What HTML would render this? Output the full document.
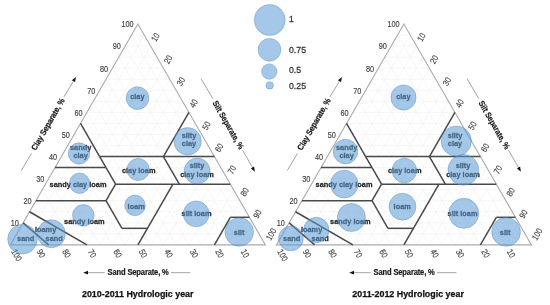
<!DOCTYPE html>
<html><head><meta charset="utf-8"><style>
html,body{margin:0;padding:0;background:#fff;width:550px;height:305px;overflow:hidden}
svg{display:block}
</style></head><body>
<svg width="550" height="305" viewBox="0 0 550 305">
<rect width="550" height="305" fill="#fff"/>
<g stroke="#f4f4f4" stroke-width="0.8" fill="none">
<line x1="16.77" y1="233.86" x2="259.02" y2="233.86"/>
<line x1="23.15" y1="244.9" x2="144.28" y2="35.11"/>
<line x1="252.65" y1="244.9" x2="131.53" y2="35.11"/>
<line x1="23.15" y1="222.82" x2="252.65" y2="222.82"/>
<line x1="35.9" y1="244.9" x2="150.65" y2="46.15"/>
<line x1="239.9" y1="244.9" x2="125.15" y2="46.15"/>
<line x1="29.52" y1="211.77" x2="246.27" y2="211.77"/>
<line x1="48.65" y1="244.9" x2="157.03" y2="57.19"/>
<line x1="227.15" y1="244.9" x2="118.78" y2="57.19"/>
<line x1="35.9" y1="200.73" x2="239.9" y2="200.73"/>
<line x1="61.4" y1="244.9" x2="163.4" y2="68.23"/>
<line x1="214.4" y1="244.9" x2="112.4" y2="68.23"/>
<line x1="42.27" y1="189.69" x2="233.53" y2="189.69"/>
<line x1="74.15" y1="244.9" x2="169.78" y2="79.27"/>
<line x1="201.65" y1="244.9" x2="106.03" y2="79.27"/>
<line x1="48.65" y1="178.65" x2="227.15" y2="178.65"/>
<line x1="86.9" y1="244.9" x2="176.15" y2="90.31"/>
<line x1="188.9" y1="244.9" x2="99.65" y2="90.31"/>
<line x1="55.02" y1="167.61" x2="220.78" y2="167.61"/>
<line x1="99.65" y1="244.9" x2="182.53" y2="101.36"/>
<line x1="176.15" y1="244.9" x2="93.28" y2="101.36"/>
<line x1="61.4" y1="156.57" x2="214.4" y2="156.57"/>
<line x1="112.4" y1="244.9" x2="188.9" y2="112.4"/>
<line x1="163.4" y1="244.9" x2="86.9" y2="112.4"/>
<line x1="67.78" y1="145.52" x2="208.03" y2="145.52"/>
<line x1="125.15" y1="244.9" x2="195.28" y2="123.44"/>
<line x1="150.65" y1="244.9" x2="80.53" y2="123.44"/>
<line x1="74.15" y1="134.48" x2="201.65" y2="134.48"/>
<line x1="137.9" y1="244.9" x2="201.65" y2="134.48"/>
<line x1="137.9" y1="244.9" x2="74.15" y2="134.48"/>
<line x1="80.53" y1="123.44" x2="195.28" y2="123.44"/>
<line x1="150.65" y1="244.9" x2="208.03" y2="145.52"/>
<line x1="125.15" y1="244.9" x2="67.78" y2="145.52"/>
<line x1="86.9" y1="112.4" x2="188.9" y2="112.4"/>
<line x1="163.4" y1="244.9" x2="214.4" y2="156.57"/>
<line x1="112.4" y1="244.9" x2="61.4" y2="156.57"/>
<line x1="93.28" y1="101.36" x2="182.53" y2="101.36"/>
<line x1="176.15" y1="244.9" x2="220.78" y2="167.61"/>
<line x1="99.65" y1="244.9" x2="55.02" y2="167.61"/>
<line x1="99.65" y1="90.31" x2="176.15" y2="90.31"/>
<line x1="188.9" y1="244.9" x2="227.15" y2="178.65"/>
<line x1="86.9" y1="244.9" x2="48.65" y2="178.65"/>
<line x1="106.03" y1="79.27" x2="169.78" y2="79.27"/>
<line x1="201.65" y1="244.9" x2="233.53" y2="189.69"/>
<line x1="74.15" y1="244.9" x2="42.27" y2="189.69"/>
<line x1="112.4" y1="68.23" x2="163.4" y2="68.23"/>
<line x1="214.4" y1="244.9" x2="239.9" y2="200.73"/>
<line x1="61.4" y1="244.9" x2="35.9" y2="200.73"/>
<line x1="118.78" y1="57.19" x2="157.03" y2="57.19"/>
<line x1="227.15" y1="244.9" x2="246.27" y2="211.77"/>
<line x1="48.65" y1="244.9" x2="29.52" y2="211.77"/>
<line x1="125.15" y1="46.15" x2="150.65" y2="46.15"/>
<line x1="239.9" y1="244.9" x2="252.65" y2="222.82"/>
<line x1="35.9" y1="244.9" x2="23.15" y2="222.82"/>
<line x1="131.53" y1="35.11" x2="144.28" y2="35.11"/>
<line x1="252.65" y1="244.9" x2="259.02" y2="233.86"/>
<line x1="23.15" y1="244.9" x2="16.77" y2="233.86"/>
</g>
<polygon points="137.9,24.06 10.4,244.9 265.4,244.9" fill="none" stroke="#ababab" stroke-width="1.1"/>
<g stroke="#4a4a4a" stroke-width="1.5" stroke-linecap="butt" fill="none">
<line x1="80.53" y1="123.44" x2="99.65" y2="156.57"/>
<line x1="188.9" y1="112.4" x2="163.4" y2="156.57"/>
<line x1="99.65" y1="156.57" x2="214.4" y2="156.57"/>
<line x1="99.65" y1="156.57" x2="106.03" y2="167.61"/>
<line x1="55.02" y1="167.61" x2="106.03" y2="167.61"/>
<line x1="163.4" y1="156.57" x2="179.34" y2="184.17"/>
<line x1="106.03" y1="167.61" x2="115.59" y2="184.17"/>
<line x1="115.59" y1="184.17" x2="230.34" y2="184.17"/>
<line x1="115.59" y1="184.17" x2="106.03" y2="200.73"/>
<line x1="35.9" y1="200.73" x2="106.03" y2="200.73"/>
<line x1="106.03" y1="200.73" x2="121.96" y2="228.34"/>
<line x1="121.96" y1="228.34" x2="147.46" y2="228.34"/>
<line x1="172.96" y1="184.17" x2="137.9" y2="244.9"/>
<line x1="230.34" y1="217.3" x2="249.46" y2="217.3"/>
<line x1="230.34" y1="217.3" x2="214.4" y2="244.9"/>
<line x1="29.52" y1="211.77" x2="86.9" y2="244.9"/>
<line x1="23.15" y1="222.82" x2="48.65" y2="244.9"/>
</g>
<g font-family='"Liberation Sans", Arial, sans-serif' font-size="8.8" fill="#404040" stroke="#404040" stroke-width="0.15">
<text transform="translate(18.85,223.42) scale(0.83,1)" text-anchor="end" dominant-baseline="central">10</text>
<text transform="translate(153.65,40.95) rotate(-60) scale(0.83,1)" dominant-baseline="central">10</text>
<text transform="translate(242.9,250.1) rotate(60) scale(0.83,1)" dominant-baseline="central">10</text>
<text transform="translate(31.6,201.33) scale(0.83,1)" text-anchor="end" dominant-baseline="central">20</text>
<text transform="translate(166.4,63.03) rotate(-60) scale(0.83,1)" dominant-baseline="central">20</text>
<text transform="translate(217.4,250.1) rotate(60) scale(0.83,1)" dominant-baseline="central">20</text>
<text transform="translate(44.35,179.25) scale(0.83,1)" text-anchor="end" dominant-baseline="central">30</text>
<text transform="translate(179.15,85.12) rotate(-60) scale(0.83,1)" dominant-baseline="central">30</text>
<text transform="translate(191.9,250.1) rotate(60) scale(0.83,1)" dominant-baseline="central">30</text>
<text transform="translate(57.1,157.17) scale(0.83,1)" text-anchor="end" dominant-baseline="central">40</text>
<text transform="translate(191.9,107.2) rotate(-60) scale(0.83,1)" dominant-baseline="central">40</text>
<text transform="translate(166.4,250.1) rotate(60) scale(0.83,1)" dominant-baseline="central">40</text>
<text transform="translate(69.85,135.08) scale(0.83,1)" text-anchor="end" dominant-baseline="central">50</text>
<text transform="translate(204.65,129.29) rotate(-60) scale(0.83,1)" dominant-baseline="central">50</text>
<text transform="translate(140.9,250.1) rotate(60) scale(0.83,1)" dominant-baseline="central">50</text>
<text transform="translate(82.6,113) scale(0.83,1)" text-anchor="end" dominant-baseline="central">60</text>
<text transform="translate(217.4,151.37) rotate(-60) scale(0.83,1)" dominant-baseline="central">60</text>
<text transform="translate(115.4,250.1) rotate(60) scale(0.83,1)" dominant-baseline="central">60</text>
<text transform="translate(95.35,90.91) scale(0.83,1)" text-anchor="end" dominant-baseline="central">70</text>
<text transform="translate(230.15,173.45) rotate(-60) scale(0.83,1)" dominant-baseline="central">70</text>
<text transform="translate(89.9,250.1) rotate(60) scale(0.83,1)" dominant-baseline="central">70</text>
<text transform="translate(108.1,68.83) scale(0.83,1)" text-anchor="end" dominant-baseline="central">80</text>
<text transform="translate(242.9,195.54) rotate(-60) scale(0.83,1)" dominant-baseline="central">80</text>
<text transform="translate(64.4,250.1) rotate(60) scale(0.83,1)" dominant-baseline="central">80</text>
<text transform="translate(120.85,46.75) scale(0.83,1)" text-anchor="end" dominant-baseline="central">90</text>
<text transform="translate(255.65,217.62) rotate(-60) scale(0.83,1)" dominant-baseline="central">90</text>
<text transform="translate(38.9,250.1) rotate(60) scale(0.83,1)" dominant-baseline="central">90</text>
<text transform="translate(133.6,24.66) scale(0.83,1)" text-anchor="end" dominant-baseline="central">100</text>
<text transform="translate(268.4,239.7) rotate(-60) scale(0.83,1)" dominant-baseline="central">100</text>
<text transform="translate(13.4,250.1) rotate(60) scale(0.83,1)" dominant-baseline="central">100</text>
</g>
<g font-family='"Liberation Sans", Arial, sans-serif' font-size="7.9" font-weight="bold" fill="#262626" stroke="#262626" stroke-width="0.25" text-anchor="middle">
<text transform="translate(137.4,98.9) scale(0.935,1)">clay</text>
<text transform="translate(189,137.5) scale(0.935,1)">silty</text>
<text transform="translate(189,145.7) scale(0.935,1)">clay</text>
<text transform="translate(80.6,149.6) scale(0.935,1)">sandy</text>
<text transform="translate(80.6,157.8) scale(0.935,1)">clay</text>
<text transform="translate(138.7,173.1) scale(0.935,1)">clay loam</text>
<text transform="translate(197,168.3) scale(0.935,1)">silty</text>
<text transform="translate(197,176.5) scale(0.935,1)">clay loam</text>
<text transform="translate(78,186.8) scale(0.935,1)">sandy clay loam</text>
<text transform="translate(136.2,208.7) scale(0.935,1)">loam</text>
<text transform="translate(196.5,216.2) scale(0.935,1)">silt loam</text>
<text transform="translate(84.3,224.3) scale(0.935,1)">sandy loam</text>
<text transform="translate(45.6,232.3) scale(0.935,1)">loamy</text>
<text transform="translate(54.2,240.7) scale(0.935,1)">sand</text>
<text transform="translate(25.7,240.7) scale(0.935,1)">sand</text>
<text transform="translate(239.2,234.9) scale(0.935,1)">silt</text>
</g>
<g font-family='"Liberation Sans", Arial, sans-serif' font-size="8.3" font-weight="bold" fill="#1a1a1a" letter-spacing="-0.15" stroke="#1a1a1a" stroke-width="0.2">
<text transform="translate(48.2,124.3) rotate(-60) scale(0.91,1)" text-anchor="middle" dominant-baseline="central">Clay Separate, %</text>
<text transform="translate(228,125) rotate(60) scale(0.91,1)" text-anchor="middle" dominant-baseline="central">Silt Separate, %</text>
<text transform="translate(138.1,275) scale(0.91,1)" text-anchor="middle">Sand Separate, %</text>
</g>
<g stroke="#8a8a8a" stroke-width="0.8">
<line x1="21.3" y1="170.5" x2="31.5" y2="153.4"/>
<line x1="63.9" y1="96.9" x2="73.9" y2="80.5"/>
<line x1="201.1" y1="78.7" x2="212.7" y2="98.5"/>
<line x1="242.5" y1="150.1" x2="252.9" y2="168.2"/>
<line x1="86" y1="272.7" x2="104.7" y2="272.7"/>
<line x1="171" y1="272.7" x2="190.4" y2="272.7"/>
</g>
<polygon points="75.9,76.9 75.1,81.98 71.9,80.13" fill="#111"/>
<polygon points="254.9,171.7 250.9,168.47 254.1,166.62" fill="#111"/>
<polygon points="83.2,272.7 88,270.85 88,274.55" fill="#111"/>
<g fill="rgb(91,155,213)" fill-opacity="0.55" stroke="rgb(65,125,190)" stroke-opacity="0.6" stroke-width="0.6">
<circle cx="137.5" cy="98.1" r="11.4"/>
<circle cx="187.6" cy="141.3" r="13.7"/>
<circle cx="79" cy="153.5" r="10.65"/>
<circle cx="138.1" cy="169.5" r="11.1"/>
<circle cx="197.1" cy="171" r="12.95"/>
<circle cx="79.6" cy="183.2" r="10.2"/>
<circle cx="135" cy="205.4" r="10.3"/>
<circle cx="196.2" cy="213.9" r="12.9"/>
<circle cx="83.3" cy="215.3" r="10.8"/>
<circle cx="51.3" cy="233.8" r="14"/>
<circle cx="22.5" cy="239.2" r="14.8"/>
<circle cx="239.2" cy="232" r="14.3"/>
</g>
<text x="137.75" y="296.8" text-anchor="middle" font-family='"Liberation Sans", Arial, sans-serif' font-size="8.9" font-weight="bold" fill="#111" stroke="#111" stroke-width="0.25">2010-2011 Hydrologic year</text>
<g stroke="#f4f4f4" stroke-width="0.8" fill="none">
<line x1="282.77" y1="233.86" x2="525.02" y2="233.86"/>
<line x1="289.15" y1="244.9" x2="410.27" y2="35.11"/>
<line x1="518.65" y1="244.9" x2="397.52" y2="35.11"/>
<line x1="289.15" y1="222.82" x2="518.65" y2="222.82"/>
<line x1="301.9" y1="244.9" x2="416.65" y2="46.15"/>
<line x1="505.9" y1="244.9" x2="391.15" y2="46.15"/>
<line x1="295.52" y1="211.77" x2="512.27" y2="211.77"/>
<line x1="314.65" y1="244.9" x2="423.02" y2="57.19"/>
<line x1="493.15" y1="244.9" x2="384.77" y2="57.19"/>
<line x1="301.9" y1="200.73" x2="505.9" y2="200.73"/>
<line x1="327.4" y1="244.9" x2="429.4" y2="68.23"/>
<line x1="480.4" y1="244.9" x2="378.4" y2="68.23"/>
<line x1="308.27" y1="189.69" x2="499.52" y2="189.69"/>
<line x1="340.15" y1="244.9" x2="435.77" y2="79.27"/>
<line x1="467.65" y1="244.9" x2="372.02" y2="79.27"/>
<line x1="314.65" y1="178.65" x2="493.15" y2="178.65"/>
<line x1="352.9" y1="244.9" x2="442.15" y2="90.31"/>
<line x1="454.9" y1="244.9" x2="365.65" y2="90.31"/>
<line x1="321.02" y1="167.61" x2="486.77" y2="167.61"/>
<line x1="365.65" y1="244.9" x2="448.52" y2="101.36"/>
<line x1="442.15" y1="244.9" x2="359.27" y2="101.36"/>
<line x1="327.4" y1="156.57" x2="480.4" y2="156.57"/>
<line x1="378.4" y1="244.9" x2="454.9" y2="112.4"/>
<line x1="429.4" y1="244.9" x2="352.9" y2="112.4"/>
<line x1="333.77" y1="145.52" x2="474.02" y2="145.52"/>
<line x1="391.15" y1="244.9" x2="461.28" y2="123.44"/>
<line x1="416.65" y1="244.9" x2="346.52" y2="123.44"/>
<line x1="340.15" y1="134.48" x2="467.65" y2="134.48"/>
<line x1="403.9" y1="244.9" x2="467.65" y2="134.48"/>
<line x1="403.9" y1="244.9" x2="340.15" y2="134.48"/>
<line x1="346.52" y1="123.44" x2="461.28" y2="123.44"/>
<line x1="416.65" y1="244.9" x2="474.02" y2="145.52"/>
<line x1="391.15" y1="244.9" x2="333.77" y2="145.52"/>
<line x1="352.9" y1="112.4" x2="454.9" y2="112.4"/>
<line x1="429.4" y1="244.9" x2="480.4" y2="156.57"/>
<line x1="378.4" y1="244.9" x2="327.4" y2="156.57"/>
<line x1="359.27" y1="101.36" x2="448.52" y2="101.36"/>
<line x1="442.15" y1="244.9" x2="486.77" y2="167.61"/>
<line x1="365.65" y1="244.9" x2="321.02" y2="167.61"/>
<line x1="365.65" y1="90.31" x2="442.15" y2="90.31"/>
<line x1="454.9" y1="244.9" x2="493.15" y2="178.65"/>
<line x1="352.9" y1="244.9" x2="314.65" y2="178.65"/>
<line x1="372.02" y1="79.27" x2="435.77" y2="79.27"/>
<line x1="467.65" y1="244.9" x2="499.52" y2="189.69"/>
<line x1="340.15" y1="244.9" x2="308.27" y2="189.69"/>
<line x1="378.4" y1="68.23" x2="429.4" y2="68.23"/>
<line x1="480.4" y1="244.9" x2="505.9" y2="200.73"/>
<line x1="327.4" y1="244.9" x2="301.9" y2="200.73"/>
<line x1="384.77" y1="57.19" x2="423.02" y2="57.19"/>
<line x1="493.15" y1="244.9" x2="512.27" y2="211.77"/>
<line x1="314.65" y1="244.9" x2="295.52" y2="211.77"/>
<line x1="391.15" y1="46.15" x2="416.65" y2="46.15"/>
<line x1="505.9" y1="244.9" x2="518.65" y2="222.82"/>
<line x1="301.9" y1="244.9" x2="289.15" y2="222.82"/>
<line x1="397.52" y1="35.11" x2="410.27" y2="35.11"/>
<line x1="518.65" y1="244.9" x2="525.02" y2="233.86"/>
<line x1="289.15" y1="244.9" x2="282.77" y2="233.86"/>
</g>
<polygon points="403.9,24.06 276.4,244.9 531.4,244.9" fill="none" stroke="#ababab" stroke-width="1.1"/>
<g stroke="#4a4a4a" stroke-width="1.5" stroke-linecap="butt" fill="none">
<line x1="346.52" y1="123.44" x2="365.65" y2="156.57"/>
<line x1="454.9" y1="112.4" x2="429.4" y2="156.57"/>
<line x1="365.65" y1="156.57" x2="480.4" y2="156.57"/>
<line x1="365.65" y1="156.57" x2="372.02" y2="167.61"/>
<line x1="321.02" y1="167.61" x2="372.02" y2="167.61"/>
<line x1="429.4" y1="156.57" x2="445.34" y2="184.17"/>
<line x1="372.02" y1="167.61" x2="381.59" y2="184.17"/>
<line x1="381.59" y1="184.17" x2="496.34" y2="184.17"/>
<line x1="381.59" y1="184.17" x2="372.02" y2="200.73"/>
<line x1="301.9" y1="200.73" x2="372.02" y2="200.73"/>
<line x1="372.02" y1="200.73" x2="387.96" y2="228.34"/>
<line x1="387.96" y1="228.34" x2="413.46" y2="228.34"/>
<line x1="438.96" y1="184.17" x2="403.9" y2="244.9"/>
<line x1="496.34" y1="217.3" x2="515.46" y2="217.3"/>
<line x1="496.34" y1="217.3" x2="480.4" y2="244.9"/>
<line x1="295.52" y1="211.77" x2="352.9" y2="244.9"/>
<line x1="289.15" y1="222.82" x2="314.65" y2="244.9"/>
</g>
<g font-family='"Liberation Sans", Arial, sans-serif' font-size="8.8" fill="#404040" stroke="#404040" stroke-width="0.15">
<text transform="translate(284.85,223.42) scale(0.83,1)" text-anchor="end" dominant-baseline="central">10</text>
<text transform="translate(419.65,40.95) rotate(-60) scale(0.83,1)" dominant-baseline="central">10</text>
<text transform="translate(508.9,250.1) rotate(60) scale(0.83,1)" dominant-baseline="central">10</text>
<text transform="translate(297.6,201.33) scale(0.83,1)" text-anchor="end" dominant-baseline="central">20</text>
<text transform="translate(432.4,63.03) rotate(-60) scale(0.83,1)" dominant-baseline="central">20</text>
<text transform="translate(483.4,250.1) rotate(60) scale(0.83,1)" dominant-baseline="central">20</text>
<text transform="translate(310.35,179.25) scale(0.83,1)" text-anchor="end" dominant-baseline="central">30</text>
<text transform="translate(445.15,85.12) rotate(-60) scale(0.83,1)" dominant-baseline="central">30</text>
<text transform="translate(457.9,250.1) rotate(60) scale(0.83,1)" dominant-baseline="central">30</text>
<text transform="translate(323.1,157.17) scale(0.83,1)" text-anchor="end" dominant-baseline="central">40</text>
<text transform="translate(457.9,107.2) rotate(-60) scale(0.83,1)" dominant-baseline="central">40</text>
<text transform="translate(432.4,250.1) rotate(60) scale(0.83,1)" dominant-baseline="central">40</text>
<text transform="translate(335.85,135.08) scale(0.83,1)" text-anchor="end" dominant-baseline="central">50</text>
<text transform="translate(470.65,129.29) rotate(-60) scale(0.83,1)" dominant-baseline="central">50</text>
<text transform="translate(406.9,250.1) rotate(60) scale(0.83,1)" dominant-baseline="central">50</text>
<text transform="translate(348.6,113) scale(0.83,1)" text-anchor="end" dominant-baseline="central">60</text>
<text transform="translate(483.4,151.37) rotate(-60) scale(0.83,1)" dominant-baseline="central">60</text>
<text transform="translate(381.4,250.1) rotate(60) scale(0.83,1)" dominant-baseline="central">60</text>
<text transform="translate(361.35,90.91) scale(0.83,1)" text-anchor="end" dominant-baseline="central">70</text>
<text transform="translate(496.15,173.45) rotate(-60) scale(0.83,1)" dominant-baseline="central">70</text>
<text transform="translate(355.9,250.1) rotate(60) scale(0.83,1)" dominant-baseline="central">70</text>
<text transform="translate(374.1,68.83) scale(0.83,1)" text-anchor="end" dominant-baseline="central">80</text>
<text transform="translate(508.9,195.54) rotate(-60) scale(0.83,1)" dominant-baseline="central">80</text>
<text transform="translate(330.4,250.1) rotate(60) scale(0.83,1)" dominant-baseline="central">80</text>
<text transform="translate(386.85,46.75) scale(0.83,1)" text-anchor="end" dominant-baseline="central">90</text>
<text transform="translate(521.65,217.62) rotate(-60) scale(0.83,1)" dominant-baseline="central">90</text>
<text transform="translate(304.9,250.1) rotate(60) scale(0.83,1)" dominant-baseline="central">90</text>
<text transform="translate(399.6,24.66) scale(0.83,1)" text-anchor="end" dominant-baseline="central">100</text>
<text transform="translate(534.4,239.7) rotate(-60) scale(0.83,1)" dominant-baseline="central">100</text>
<text transform="translate(279.4,250.1) rotate(60) scale(0.83,1)" dominant-baseline="central">100</text>
</g>
<g font-family='"Liberation Sans", Arial, sans-serif' font-size="7.9" font-weight="bold" fill="#262626" stroke="#262626" stroke-width="0.25" text-anchor="middle">
<text transform="translate(403.4,98.9) scale(0.935,1)">clay</text>
<text transform="translate(455,137.5) scale(0.935,1)">silty</text>
<text transform="translate(455,145.7) scale(0.935,1)">clay</text>
<text transform="translate(346.6,149.6) scale(0.935,1)">sandy</text>
<text transform="translate(346.6,157.8) scale(0.935,1)">clay</text>
<text transform="translate(404.7,173.1) scale(0.935,1)">clay loam</text>
<text transform="translate(463,168.3) scale(0.935,1)">silty</text>
<text transform="translate(463,176.5) scale(0.935,1)">clay loam</text>
<text transform="translate(344,186.8) scale(0.935,1)">sandy clay loam</text>
<text transform="translate(402.2,208.7) scale(0.935,1)">loam</text>
<text transform="translate(462.5,216.2) scale(0.935,1)">silt loam</text>
<text transform="translate(350.3,224.3) scale(0.935,1)">sandy loam</text>
<text transform="translate(311.6,232.3) scale(0.935,1)">loamy</text>
<text transform="translate(320.2,240.7) scale(0.935,1)">sand</text>
<text transform="translate(291.7,240.7) scale(0.935,1)">sand</text>
<text transform="translate(505.2,234.9) scale(0.935,1)">silt</text>
</g>
<g font-family='"Liberation Sans", Arial, sans-serif' font-size="8.3" font-weight="bold" fill="#1a1a1a" letter-spacing="-0.15" stroke="#1a1a1a" stroke-width="0.2">
<text transform="translate(314.2,124.3) rotate(-60) scale(0.91,1)" text-anchor="middle" dominant-baseline="central">Clay Separate, %</text>
<text transform="translate(494,125) rotate(60) scale(0.91,1)" text-anchor="middle" dominant-baseline="central">Silt Separate, %</text>
<text transform="translate(404.1,275) scale(0.91,1)" text-anchor="middle">Sand Separate, %</text>
</g>
<g stroke="#8a8a8a" stroke-width="0.8">
<line x1="287.3" y1="170.5" x2="297.5" y2="153.4"/>
<line x1="329.9" y1="96.9" x2="339.9" y2="80.5"/>
<line x1="467.1" y1="78.7" x2="478.7" y2="98.5"/>
<line x1="508.5" y1="150.1" x2="518.9" y2="168.2"/>
<line x1="352" y1="272.7" x2="370.7" y2="272.7"/>
<line x1="437" y1="272.7" x2="456.4" y2="272.7"/>
</g>
<polygon points="341.9,76.9 341.1,81.98 337.9,80.13" fill="#111"/>
<polygon points="520.9,171.7 516.9,168.47 520.1,166.62" fill="#111"/>
<polygon points="349.2,272.7 354,270.85 354,274.55" fill="#111"/>
<g fill="rgb(91,155,213)" fill-opacity="0.55" stroke="rgb(65,125,190)" stroke-opacity="0.6" stroke-width="0.6">
<circle cx="403.5" cy="97.5" r="12.6"/>
<circle cx="456.3" cy="141.1" r="15.15"/>
<circle cx="345.5" cy="151.6" r="12.3"/>
<circle cx="404.4" cy="170.5" r="12.3"/>
<circle cx="463.4" cy="169.8" r="15.4"/>
<circle cx="344.3" cy="184.1" r="13.9"/>
<circle cx="402.5" cy="206.7" r="13.45"/>
<circle cx="463.8" cy="213.3" r="15"/>
<circle cx="351.4" cy="217.5" r="14.05"/>
<circle cx="316.3" cy="230" r="12.7"/>
<circle cx="290.9" cy="238.4" r="12.4"/>
<circle cx="506.1" cy="231.9" r="14.4"/>
</g>
<text x="408.1" y="296.8" text-anchor="middle" font-family='"Liberation Sans", Arial, sans-serif' font-size="8.9" font-weight="bold" fill="#111" stroke="#111" stroke-width="0.25">2011-2012 Hydrologic year</text>
<g fill="rgb(91,155,213)" fill-opacity="0.55" stroke="rgb(65,125,190)" stroke-opacity="0.6" stroke-width="0.6">
<circle cx="269.7" cy="20" r="15.5"/>
<circle cx="269.5" cy="49.8" r="11.4"/>
<circle cx="269.3" cy="71.6" r="7.7"/>
<circle cx="269.7" cy="85.4" r="3.75"/>
</g>
<g font-family='"Liberation Sans", Arial, sans-serif' font-size="9.5" fill="#333" stroke="#333" stroke-width="0.25">
<text transform="translate(289,22.4) scale(0.92,1)">1</text>
<text transform="translate(289,53.3) scale(0.92,1)">0.75</text>
<text transform="translate(289,72.9) scale(0.92,1)">0.5</text>
<text transform="translate(289,89.1) scale(0.92,1)">0.25</text>
</g>
</svg>
</body></html>
